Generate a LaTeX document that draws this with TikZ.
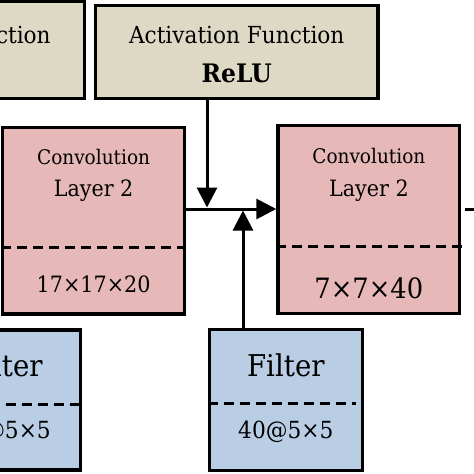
\documentclass[tikz,border=0pt]{standalone}
\usepackage{fontspec}
\setmainfont{DejaVu Serif}[FakeStretch=0.92]
\usetikzlibrary{arrows.meta}
\definecolor{colAct}{RGB}{221,217,196}
\definecolor{colConv}{RGB}{230,184,183}
\definecolor{colFiltro}{RGB}{185,205,229}

\begin{document}
\begin{tikzpicture}[x=1pt,y=-1pt,
    caja/.style 2 args={draw=black,line width=3.5pt,minimum width=#1,minimum height=#2,inner sep=0pt},
    texto/.style={anchor=base,inner sep=0pt,font=\fontsize{#1}{#1}\selectfont},
    flecha/.style={line width=3pt,-{Triangle[width=20pt,length=20pt]}},
    divisor/.style={line width=3pt,dash pattern=on 10pt off 6pt}]

    \def\yflecha{209}

    \useasboundingbox (0,0) rectangle (474,474);
    \clip (0,0) rectangle (474,474);

    %Cajas
    \node[caja={282.5pt}{97.3pt},fill=colAct] (act1) at (-57,49.7) {};
    \node[caja={282.5pt}{93pt},fill=colAct] (act2) at (236.75,51.8) {};
    \node[caja={182.2pt}{186.5pt},fill=colConv] (conv1) at (93.6,220.75) {};
    \node[caja={181.7pt}{188pt},fill=colConv] (conv2) at (368.85,219.3) {};
    \node[caja={153pt}{140pt},fill=colFiltro] (filt1) at (3.8,400) {};
    \node[caja={153pt}{140.6pt},fill=colFiltro] (filt2) at (285.8,400) {};

    %Divisiones
    \draw[divisor] (conv1.west |- 0,247) -- (184,247);
    \draw[divisor] (conv2.west |- 0,246) -- (464,246);
    \draw[divisor] (filt1.west |- 0,404) -- (80,404);
    \draw[divisor] (filt2.west |- 0,403.3) -- (356,403.3);

    %Textos
    \node[texto=23.5] (tAct1) at (act1.center |- 0,43) {Activation Function};
    \node[texto=23.5] (tAct2) at (act2.center |- 0,43) {Activation Function};
    \node[texto=25.5] (tRelu) at (act2.center |- 0,82) {\bfseries ReLU};

    \node[texto=20.1] (tConv1) at (conv1.center |- 0,164) {Convolution};
    \node[texto=22.5] (tCapa1) at (conv1.center |- 0,196) {Layer 2};
    \node[texto=22.5] (tDim1) at (conv1.center |- 0,292.7) {17×17×20};

    \node[texto=20.1] (tConv2) at (conv2.center |- 0,163) {Convolution};
    \node[texto=22.5] (tCapa2) at (conv2.center |- 0,196) {Layer 2};
    \node[texto=28] (tDim2) at (conv2.center |- 0,298) {7×7×40};

    \node[texto=30] (tFilt1) at (filt1.center |- 0,376) {Filter};
    \node[texto=23.6,anchor=base east] (tNum1) at (51,438.5) {@5×5};
    \node[texto=30] (tFilt2) at (filt2.center |- 0,376) {Filter};
    \node[texto=23.6] (tNum2) at (filt2.center |- 0,438.5) {40@5×5};

    %Flechas
    \coordinate (jAct) at (207,\yflecha);
    \coordinate (jFilt) at (243,\yflecha);
    \draw[flecha] (conv1.east |- jAct) -- (conv2.west |- jAct);
    \draw[flecha] (act2.south -| jAct) -- ([yshift=1.5pt]jAct);
    \draw[flecha] (filt2.north -| jFilt) -- ([yshift=-1.5pt]jFilt);
    \draw[line width=3pt,shorten <=4pt] (conv2.east |- jAct) -- ++(20,0);

\end{tikzpicture}
\end{document}
